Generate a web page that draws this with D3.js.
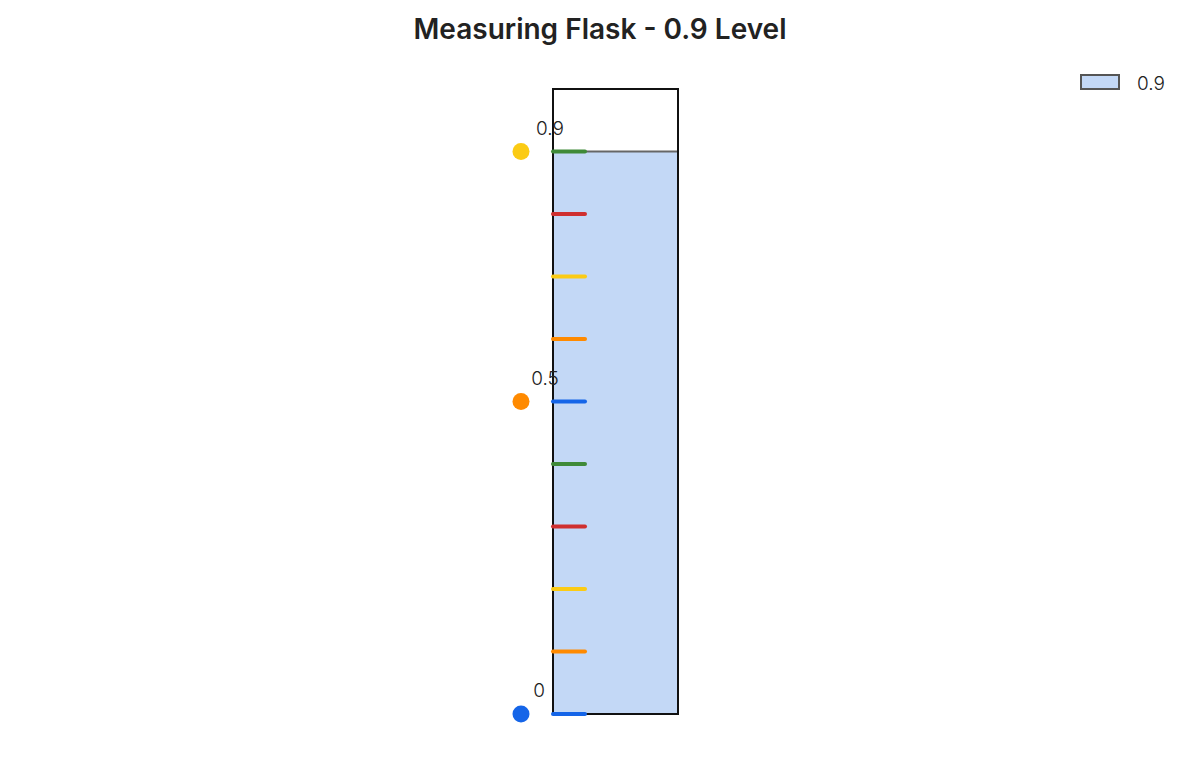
<!DOCTYPE html>
<html>
<head>
<meta charset="utf-8">
<script src="https://cdn.jsdelivr.net/npm/d3@7"></script>
<style>
  body { margin: 0; background: #fff; font-family: Inter, "Open Sans", sans-serif; }
</style>
</head>
<body>
<div id="chart"></div>
<script>
const kWidth = 1200;
const kHeight = 763;
const kTitle = "Measuring Flask - 0.9 Level";
const kLevel = 0.9;
const kTicks = [0, 0.1, 0.2, 0.3, 0.4, 0.5, 0.6, 0.7, 0.8, 0.9];
const kTickColors = ["#1565e8", "#ff8a00", "#fbcb14", "#cf2f2f", "#3f8a38",
                     "#1565e8", "#ff8a00", "#fbcb14", "#cf2f2f", "#3f8a38"];
const kMarks = [0, 0.5, 0.9];
const kMarkLabels = ["0", "0.5", "0.9"];
const kMarkColors = ["#1565e8", "#ff8a00", "#fbcb14"];
const kLegend = ["0.9"];

const svg = d3.select("#chart")
  .append("svg")
  .attr("width", kWidth)
  .attr("height", kHeight);

const yScale = d3.scaleLinear()
  .domain([0, 1])
  .range([714, 89]);

const flaskLeft = 553;
const flaskRight = 678;

svg.append("text")
  .attr("x", kWidth / 2)
  .attr("y", 39)
  .attr("text-anchor", "middle")
  .style("font-size", "28px")
  .style("font-weight", "600")
  .style("fill", "#222")
  .text(kTitle);

// liquid
svg.append("rect")
  .attr("x", flaskLeft)
  .attr("y", yScale(kLevel))
  .attr("width", flaskRight - flaskLeft)
  .attr("height", yScale(0) - yScale(kLevel))
  .attr("fill", "#c3d8f6");

svg.append("line")
  .attr("x1", flaskLeft)
  .attr("x2", flaskRight)
  .attr("y1", yScale(kLevel))
  .attr("y2", yScale(kLevel))
  .attr("stroke", "#666")
  .attr("stroke-width", 2);

// flask outline
svg.append("rect")
  .attr("x", flaskLeft)
  .attr("y", yScale(1))
  .attr("width", flaskRight - flaskLeft)
  .attr("height", yScale(0) - yScale(1))
  .attr("fill", "none")
  .attr("stroke", "#111")
  .attr("stroke-width", 2);

// graduation ticks
svg.selectAll(".tick")
  .data(kTicks)
  .enter()
  .append("line")
  .attr("class", "tick")
  .attr("x1", flaskLeft)
  .attr("x2", flaskLeft + 32)
  .attr("y1", d => yScale(d))
  .attr("y2", d => yScale(d))
  .attr("stroke", (d, i) => kTickColors[i])
  .attr("stroke-width", 4)
  .attr("stroke-linecap", "round");

// marker dots
svg.selectAll(".mark")
  .data(kMarks)
  .enter()
  .append("circle")
  .attr("class", "mark")
  .attr("cx", 521)
  .attr("cy", d => yScale(d))
  .attr("r", 8.5)
  .attr("fill", (d, i) => kMarkColors[i]);

svg.selectAll(".mark-label")
  .data(kMarks)
  .enter()
  .append("text")
  .attr("class", "mark-label")
  .attr("x", (d, i) => [539, 545, 550][i])
  .attr("y", d => yScale(d) - 17)
  .attr("text-anchor", "middle")
  .style("font-size", "19px")
  .style("font-weight", "300")
  .style("fill", "#222")
  .text((d, i) => kMarkLabels[i]);

// legend
const legend = svg.append("g")
  .attr("transform", "translate(1081, 75)");

legend.append("rect")
  .attr("width", 38)
  .attr("height", 14)
  .attr("fill", "#c3d8f6")
  .attr("stroke", "#555")
  .attr("stroke-width", 2);

legend.append("text")
  .attr("x", 56)
  .attr("y", 8)
  .attr("dy", "0.35em")
  .style("font-size", "19px")
  .style("font-weight", "300")
  .style("fill", "#222")
  .text(kLegend[0]);
</script>
</body>
</html>
